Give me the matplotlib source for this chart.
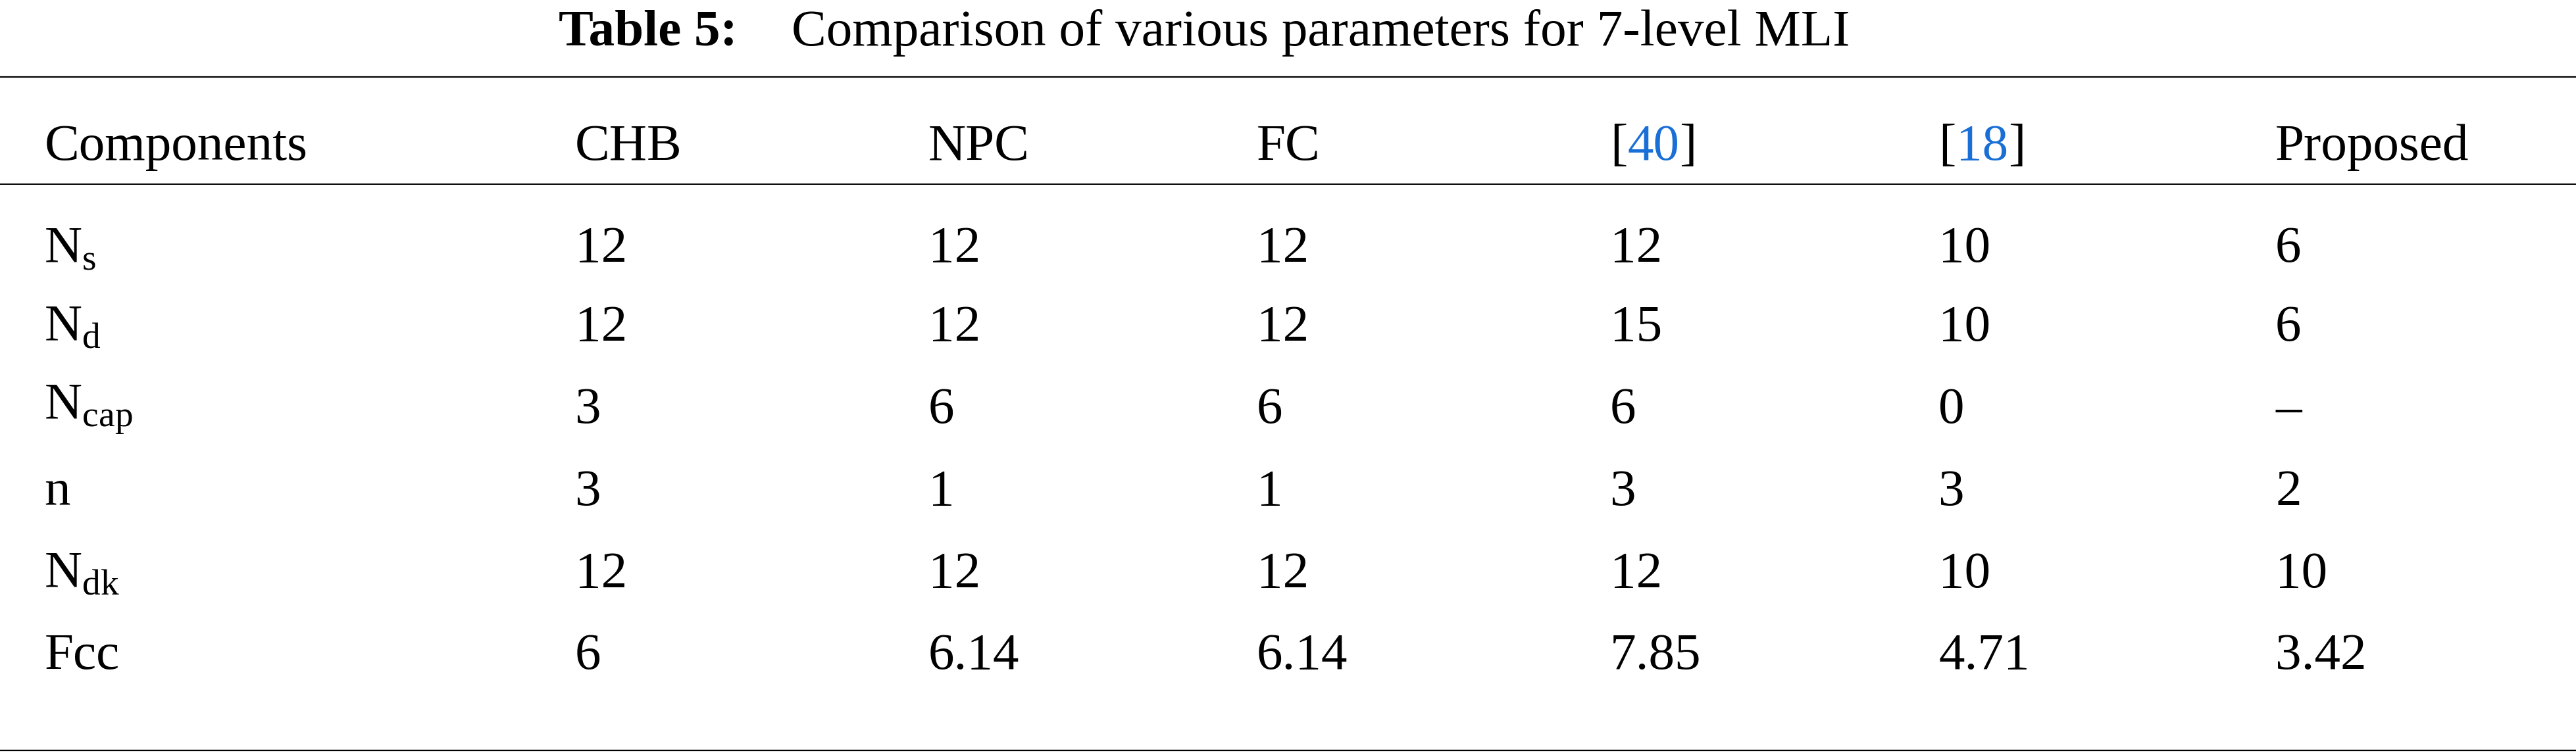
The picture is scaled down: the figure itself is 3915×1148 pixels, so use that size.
import matplotlib
matplotlib.use("Agg")
import matplotlib.pyplot as plt

plt.rcParams['font.family'] = ['Liberation Serif', 'DejaVu Serif']
plt.rcParams['mathtext.fontset'] = 'custom'
plt.rcParams['mathtext.rm'] = 'Liberation Serif'

# table content
title_bold = "Table 5:"
title_rest = "Comparison of various parameters for 7-level MLI"
headers = ["Components", "CHB", "NPC", "FC", "[40]", "[18]", "Proposed"]
row_labels = [r"N$_\mathrm{s}$", r"N$_\mathrm{d}$", r"N$_\mathrm{cap}$", "n",
              r"N$_\mathrm{dk}$", "Fcc"]
values = [
    ["12", "12", "12", "12", "10", "6"],
    ["12", "12", "12", "15", "10", "6"],
    ["3", "6", "6", "6", "0", "–"],
    ["3", "1", "1", "3", "3", "2"],
    ["12", "12", "12", "12", "10", "10"],
    ["6", "6.14", "6.14", "7.85", "4.71", "3.42"],
]

W, H = 1568.0, 459.8
col_x = [27, 350, 565, 765, 980, 1180, 1385]
header_y = 90
row_y = [152, 200, 250, 300, 350, 400]
FS = 57
LINK = '#1a6fd6'

fig = plt.figure(figsize=(39.15, 11.48), dpi=100)
fig.patch.set_facecolor('white')

def fx(x):
    return x / W

def fy(y):
    return 1 - y / H

renderer = fig.canvas.get_renderer()

def pieces(x, y, parts, **kw):
    # draw consecutive text pieces with different colours/weights
    for s, color, weight in parts:
        t = fig.text(fx(x), fy(y), s, color=color, fontweight=weight,
                     fontsize=FS, va='center', ha='left', **kw)
        bb = t.get_window_extent(renderer=renderer)
        x += bb.width / fig.dpi / 39.15 * W

# title
fig.text(fx(340), fy(20), title_bold, fontsize=FS, fontweight='bold', va='center', ha='left')
fig.text(fx(482), fy(20), title_rest, fontsize=FS, va='center', ha='left')

# rules
for y, lw in [(47, 1.6), (112, 1.4), (457, 1.6)]:
    fig.add_artist(plt.Line2D([0, 1], [fy(y), fy(y)], color='black', lw=lw))

# header
for x, h in zip(col_x, headers):
    if h.startswith('['):
        pieces(x, header_y, [("[", 'black', 'normal'), (h[1:-1], LINK, 'normal'),
                             ("]", 'black', 'normal')])
    else:
        fig.text(fx(x), fy(header_y), h, fontsize=FS, va='center', ha='left')

# body
for y, lab, vals in zip(row_y, row_labels, values):
    fig.text(fx(col_x[0]), fy(y), lab, fontsize=FS, va='center', ha='left')
    for x, v in zip(col_x[1:], vals):
        fig.text(fx(x), fy(y), v, fontsize=FS, va='center', ha='left')

fig.savefig("out.png", dpi=100)
